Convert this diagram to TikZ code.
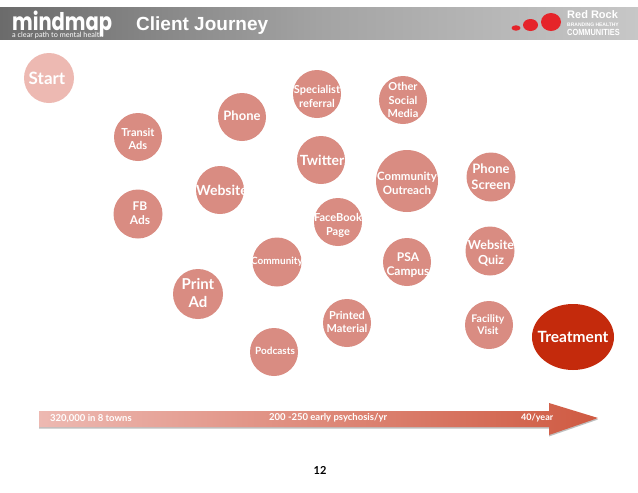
\documentclass[tikz,border=0pt]{standalone}
\usetikzlibrary{shapes.geometric}
\usepackage{fontspec}
\setmainfont{Lato}
\newfontfamily\headfont{Liberation Sans}
\newfontfamily\logofont{Poppins}
\definecolor{bub}{HTML}{D98C82}
\definecolor{startc}{HTML}{EDB9B2}
\definecolor{treat}{HTML}{C42A0C}
\definecolor{logored}{HTML}{E5242A}
\definecolor{arrowend}{HTML}{CF5A42}
\tikzset{
  bubble/.style={circle,fill=bub,draw=none,inner sep=0pt},
  txt/.style={text=white,align=center,inner sep=0pt},
  bandlabel/.style={text=white,inner sep=0pt,font=\bfseries\fontsize{9.5}{12}\selectfont},
}
\newcommand{\bub}[8]{%
  \node[bubble,minimum size=#4] (#1) at (#2,#3) {};
  \node[txt,font={\bfseries\fontsize{#7}{\dimexpr #7pt*12/10\relax}\selectfont}] (#1t) at (#5,#6) {#8};
}
\begin{document}
\begin{tikzpicture}[x=1pt,y=-1pt]
\useasboundingbox (0,0) rectangle (638,493);
\fill[white] (0,0) rectangle (638,493);
% header
\shade[left color=black!58,right color=black!22,middle color=black!36] (0,7) rectangle (638,39);
\node[text=white,inner sep=0pt,anchor=base west,font=\logofont\bfseries\fontsize{19.5}{22}\selectfont] (logo) at (12,30) {\scalebox{1}[1.25]{mindmap}};
\node[text=white,inner sep=0pt,anchor=base west,font=\fontsize{7.3}{8}\selectfont] (tag) at (12,37.5) {a clear path to mental health};
\node[text=white,inner sep=0pt,anchor=base west,font=\headfont\bfseries\fontsize{19}{20}\selectfont] (title) at (136,30) {Client Journey};
\fill[logored] (516,28) ellipse (4.5 and 2.7);
\fill[logored] (530.5,25) ellipse (7.5 and 6);
\fill[logored] (551,22) ellipse (10 and 9);
\node[text=white,inner sep=0pt,anchor=base west,font=\headfont\bfseries\fontsize{11}{12}\selectfont] (rr) at (567,18.5) {Red Rock};
\node[text=white,inner sep=0pt,anchor=base west,font=\headfont\bfseries\fontsize{5}{6}\selectfont] (rb) at (567,26) {BRANDING HEALTHY};
\node[text=white,inner sep=0pt,anchor=base west,font=\headfont\bfseries\fontsize{7.4}{10}\selectfont] (rc) at (567,35.5) {\scalebox{1}[1.2]{COMMUNITIES}};
% bubbles
\node[circle,fill=startc,inner sep=0pt,minimum size=50] (start) at (49,78) {};
\node[txt,font=\bfseries\fontsize{17}{20}\selectfont] (startt) at (47,78) {Start};
\bub{spec}{317}{94}{48}{317}{96.5}{11}{Specialist\\referral}
\bub{other}{403}{100}{48}{403}{100}{11}{Other\\Social\\Media}
\bub{phone}{242}{117}{48}{242}{116}{13}{Phone}
\bub{transit}{138}{137}{48}{138}{139}{11}{Transit\\Ads}
\bub{twitter}{321}{160}{48}{322}{160}{14}{Twitter}
\bub{outreach}{407}{181}{62}{407}{183.5}{11.5}{Community\\Outreach}
\bub{screen}{491}{177}{49}{491}{177}{13}{Phone\\Screen}
\bub{website}{220}{190}{48}{222}{190}{14}{Website}
\bub{fb}{138}{214}{49}{140}{213}{12}{FB\\Ads}
\bub{fbpage}{338}{222}{48}{338}{225.5}{11}{FaceBook\\Page}
\bub{comm}{277}{262}{49}{277}{262}{10}{Community}
\bub{psa}{407}{262}{48}{408}{265}{12}{PSA\\Campus}
\bub{quiz}{490}{251}{49}{491}{253.5}{12.5}{Website\\Quiz}
\bub{print}{198}{294}{50}{198}{293}{15}{Print\\Ad}
\bub{printed}{347}{323}{48}{347}{322}{11}{Printed\\Material}
\bub{facility}{489}{325}{48}{488}{324.5}{10.5}{Facility\\Visit}
\bub{podcasts}{274}{352}{48}{275}{351}{10}{Podcasts}
\node[ellipse,fill=treat,inner sep=0pt,minimum width=82,minimum height=66] (treatment) at (573,337) {};
\node[txt,font=\bfseries\fontsize{15.5}{18}\selectfont] (treatmentt) at (573,337) {Treatment};
% arrow
\fill[black!25] (39,412.5) -- (549,412.5) -- (549,404.5) -- (598,419.5) -- (549,436.5) -- (549,428.5) -- (39,428.5) -- cycle;
\shade[left color=startc,right color=arrowend] (39,411) -- (549,411) -- (549,403) -- (598,418) -- (549,435) -- (549,427) -- (39,427) -- cycle;
\node[bandlabel,anchor=west] (a1) at (50,419) {320,000 in 8 towns};
\node[bandlabel,anchor=west] (a2) at (269,418) {200 -250 early psychosis/yr};
\node[bandlabel,anchor=west,font=\bfseries\fontsize{9}{12}\selectfont] (a3) at (521,418) {40/year};
\node[inner sep=0pt,font=\bfseries\fontsize{11}{12}\selectfont] (pg) at (320,470) {12};
\end{tikzpicture}
\end{document}
